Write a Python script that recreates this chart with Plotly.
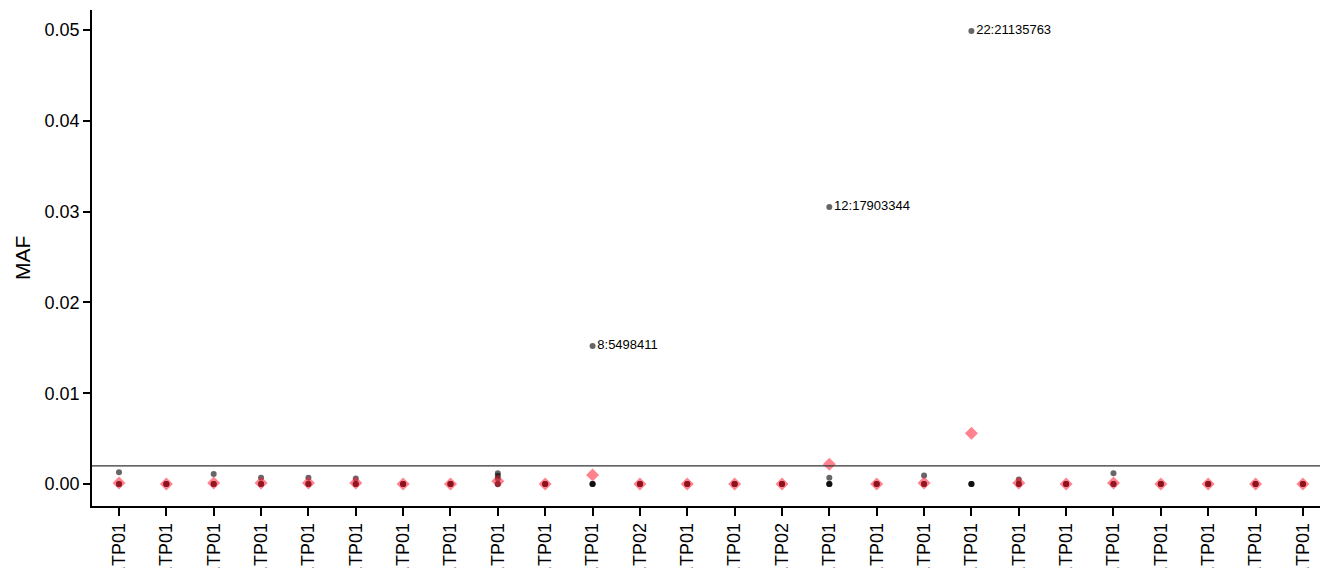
import plotly.graph_objects as go

# sample names (only the ".TPxx" end is visible in the chart)
samples = [
    "CRC.P01.TP01", "CRC.P02.TP01", "CRC.P03.TP01", "CRC.P04.TP01", "CRC.P05.TP01",
    "CRC.P06.TP01", "CRC.P07.TP01", "CRC.P08.TP01", "CRC.P09.TP01", "CRC.P10.TP01",
    "CRC.P11.TP01", "CRC.P12.TP02", "CRC.P13.TP01", "CRC.P14.TP01", "CRC.P15.TP02",
    "CRC.P16.TP01", "CRC.P17.TP01", "CRC.P18.TP01", "CRC.P19.TP01", "CRC.P20.TP01",
    "CRC.P21.TP01", "CRC.P22.TP01", "CRC.P23.TP01", "CRC.P24.TP01", "CRC.P25.TP01",
    "CRC.P26.TP01",
]

# per-site MAF values for every sample
site_maf = [
    [0.0013, 0, 0, 0],
    [0, 0, 0, 0],
    [0.0011, 0, 0, 0],
    [0.0007, 0, 0, 0],
    [0.0007, 0, 0, 0],
    [0.0006, 0, 0, 0],
    [0, 0, 0, 0],
    [0, 0, 0, 0],
    [0.0012, 0.0009, 0.0006, 0, 0],
    [0, 0, 0, 0],
    [0.0152, 0, 0, 0],
    [0, 0, 0, 0],
    [0, 0, 0, 0],
    [0, 0, 0, 0],
    [0, 0, 0, 0],
    [0.0305, 0.0007, 0, 0, 0],
    [0, 0, 0, 0],
    [0.00095, 0, 0, 0],
    [0.0499, 0, 0, 0],
    [0.0005, 0, 0, 0],
    [0, 0, 0, 0],
    [0.0012, 0, 0, 0],
    [0, 0, 0, 0],
    [0, 0, 0, 0],
    [0, 0, 0, 0],
    [0, 0, 0, 0],
]

# mean MAF per sample (diamonds)
mean_maf = [
    0.0001, 0, 0.0001, 0.0001, 0.0001, 0.0001, 0, 0, 0.0003, 0,
    0.001, 0, 0, 0, 0, 0.00217, 0, 0.0001, 0.0056, 0.0001,
    0, 0.0001, 0, 0, 0, 0,
]

# labelled outlier sites
site_labels = {
    (10, 0.0152): "8:5498411",
    (15, 0.0305): "12:17903344",
    (18, 0.0499): "22:21135763",
}

threshold = 0.002

xs, ys, txt = [], [], []
for i, vals in enumerate(site_maf):
    for v in vals:
        xs.append(samples[i])
        ys.append(v)
        txt.append(site_labels.get((i, v), ""))

fig = go.Figure()
fig.add_trace(go.Scatter(
    x=xs, y=ys, mode="markers+text", text=txt, textposition="middle right",
    textfont=dict(size=13, color="black"),
    marker=dict(size=6, color="rgba(0,0,0,0.6)", line=dict(width=0)),
    hoverinfo="skip", showlegend=False,
))
fig.add_trace(go.Scatter(
    x=samples, y=mean_maf, mode="markers",
    marker=dict(symbol="diamond", size=10, color="rgba(255,30,50,0.55)", line=dict(width=0)),
    hoverinfo="skip", showlegend=False,
))
fig.add_hline(y=threshold, line=dict(color="#333333", width=1.2))

# y title placed by hand, the page body adds an 8px offset
fig.add_annotation(
    text="MAF", xref="paper", yref="paper", x=0, y=0.5, xshift=-70,
    xanchor="center", yanchor="middle", textangle=-90, showarrow=False,
    font=dict(size=21, color="black"),
)

fig.update_layout(
    width=1320, height=560,
    margin=dict(l=84, r=0, t=2, b=62),
    plot_bgcolor="white", paper_bgcolor="white",
    font=dict(family="Liberation Sans, Arial, sans-serif", color="black"),
    xaxis=dict(
        type="category", categoryorder="array", categoryarray=samples,
        range=[-0.57, 25.53], showgrid=False, zeroline=False,
        showline=True, linecolor="black", linewidth=1.5,
        ticks="outside", ticklen=8, tickwidth=1.5, tickcolor="black",
        tickangle=-90, tickfont=dict(size=18, color="black"), automargin=False,
    ),
    yaxis=dict(
        range=[-0.00242, 0.0522], showgrid=False, zeroline=False,
        showline=True, linecolor="black", linewidth=1.5,
        ticks="outside", ticklen=7, tickwidth=1.5, tickcolor="black",
        tickvals=[0, 0.01, 0.02, 0.03, 0.04, 0.05], tickformat=".2f",
        tickfont=dict(size=18, color="black"),
        automargin=False,
    ),
)

fig.write_html("out.html")
